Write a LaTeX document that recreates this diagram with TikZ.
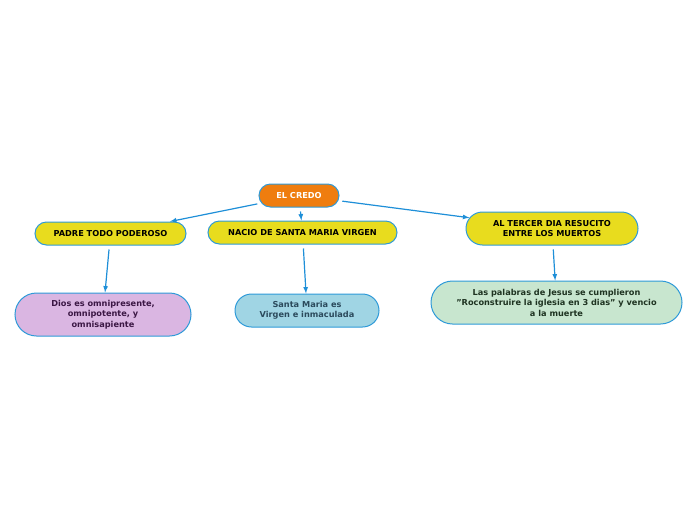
\documentclass[tikz,border=0pt]{standalone}
\usepackage{fontspec}
\setmainfont{DejaVu Sans}
\usepackage{tikz}
\usetikzlibrary{arrows,shapes.misc}
\tikzset{>=latex}
\definecolor{credo}{HTML}{EF7D0F}
\definecolor{amarillo}{HTML}{E8DC1E}
\definecolor{lila}{HTML}{DAB6E2}
\definecolor{celeste}{HTML}{A0D5E4}
\definecolor{verde}{HTML}{C8E6CF}
\definecolor{borde}{HTML}{2E9AD8}
\definecolor{flecha}{HTML}{1E8FD8}
\tikzset{
  idea/.style={rounded rectangle,draw=borde,line width=1pt,align=center,
    font=\fontsize{8.2}{10.5}\selectfont\bfseries,inner sep=2pt},
  liga/.style={->,draw=flecha,line width=1.2pt,shorten <=4pt}
}

\begin{document}
\begin{tikzpicture}[x=1pt,y=-1pt]
    \useasboundingbox (0,0) rectangle (696,520);
    \node at (299, 195.5) [idea,fill=credo,text=white,minimum width=84pt,minimum height=23pt] (credo) {EL CREDO};
    \node at (110.5, 233.5) [idea,fill=amarillo,minimum width=155pt,minimum height=23pt] (padre) {PADRE TODO PODEROSO};
    \node at (302.5, 232.5) [idea,fill=amarillo,minimum width=193pt,minimum height=23pt] (nacio) {NACIO DE SANTA MARIA VIRGEN};
    \node at (552, 228.5) [idea,fill=amarillo,minimum width=176pt,minimum height=33pt] (tercer) {AL TERCER DIA RESUCITO\\ ENTRE LOS MUERTOS};
    \node at (103, 314.5) [idea,fill=lila,text={rgb,255:red,59;green,23;blue,68},minimum width=180pt,minimum height=43pt] (dios) {Dios es omnipresente,\\ omnipotente, y\\ omnisapiente};
    \node at (307, 310.5) [idea,fill=celeste,text={rgb,255:red,43;green,74;blue,92},minimum width=148pt,minimum height=33pt] (santa) {Santa Maria es\\ Virgen e inmaculada};
    \node at (556.5, 302.5) [idea,fill=verde,text={rgb,255:red,30;green,51;blue,33},minimum width=255pt,minimum height=43pt] (palabras) {Las palabras de Jesus se cumplieron\\ \symbol{34}Roconstruire la iglesia en 3 dias\symbol{34} y vencio\\ a la muerte};
    \draw [liga] (credo) to (padre);
    \draw [liga] (credo) to (nacio);
    \draw [liga] (credo) to (tercer);
    \draw [liga] (padre) to (dios);
    \draw [liga] (nacio) to (santa);
    \draw [liga] (tercer) to (palabras);
  \end{tikzpicture}
\end{document}
